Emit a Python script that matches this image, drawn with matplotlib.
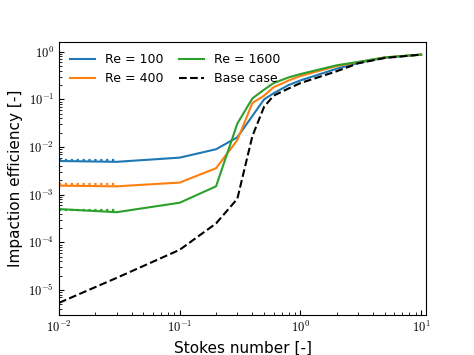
import matplotlib
matplotlib.use("Agg")
import matplotlib.pyplot as plt
from matplotlib.ticker import FuncFormatter, LogLocator
import numpy as np

plt.rcParams['mathtext.fontset'] = 'cm'

# Stokes numbers sampled
stokes = [0.01, 0.03, 0.1, 0.2, 0.3, 0.4, 0.5, 0.6, 0.8, 1.0, 2.0, 3.0, 5.0, 10.0]

# impaction efficiency for each Reynolds number
eff_re100 = [5.1e-3, 4.9e-3, 6.0e-3, 9.0e-3, 1.6e-2, 0.045, 0.10, 0.135, 0.20, 0.25, 0.44, 0.58, 0.75, 0.87]
eff_re400 = [1.55e-3, 1.5e-3, 1.8e-3, 3.6e-3, 1.4e-2, 0.084, 0.12, 0.18, 0.25, 0.31, 0.50, 0.60, 0.76, 0.87]
eff_re1600 = [5.0e-4, 4.3e-4, 6.8e-4, 1.5e-3, 3.1e-2, 0.105, 0.16, 0.22, 0.29, 0.34, 0.52, 0.61, 0.76, 0.87]
eff_base = [5.4e-6, 1.8e-5, 7.0e-5, 2.5e-4, 8.2e-4, 1.7e-2, 0.07, 0.12, 0.17, 0.22, 0.39, 0.57, 0.74, 0.87]

# low-Stokes limit values (dotted)
limit_x = [0.01, 0.03]
limit_re100 = 5.3e-3
limit_re400 = 1.7e-3
limit_re1600 = 4.8e-4

c_blue = '#1f77b4'
c_orange = '#ff7f0e'
c_green = '#2ca02c'

fig = plt.figure(figsize=(4.74, 3.55), dpi=100)
ax = fig.add_axes([0.1245, 0.1127, 0.7745, 0.769])

ax.plot(stokes, eff_re100, color=c_blue, lw=1.5, label='Re = 100')
ax.plot(stokes, eff_re400, color=c_orange, lw=1.5, label='Re = 400')
ax.plot(stokes, eff_re1600, color=c_green, lw=1.5, label='Re = 1600')
ax.plot(stokes, eff_base, 'k--', lw=1.5, label='Base case')

ax.plot(limit_x, [limit_re100] * 2, ':', color=c_blue, lw=1.6)
ax.plot(limit_x, [limit_re400] * 2, ':', color=c_orange, lw=1.6)
ax.plot(limit_x, [limit_re1600] * 2, ':', color=c_green, lw=1.6)

ax.set_xscale('log')
ax.set_yscale('log')
ax.set_xlim(0.01, 11)
ax.set_ylim(3e-6, 1.6)

fmt = FuncFormatter(lambda v, p: r'$10^{%d}$' % int(round(np.log10(v))))
ax.xaxis.set_major_formatter(fmt)
ax.yaxis.set_major_formatter(fmt)
ax.yaxis.set_major_locator(LogLocator(base=10, numticks=12))
ax.yaxis.set_minor_locator(LogLocator(base=10, subs=np.arange(2, 10), numticks=12))
ax.tick_params(which='both', direction='in', labelsize=9)

ax.set_xlabel('Stokes number [-]', fontsize=11)
ax.set_ylabel('Impaction efficiency [-]', fontsize=11)

ax.legend(ncol=2, frameon=False, loc='upper left', fontsize=9, columnspacing=1.2)

fig.savefig('out.png', dpi=100)
